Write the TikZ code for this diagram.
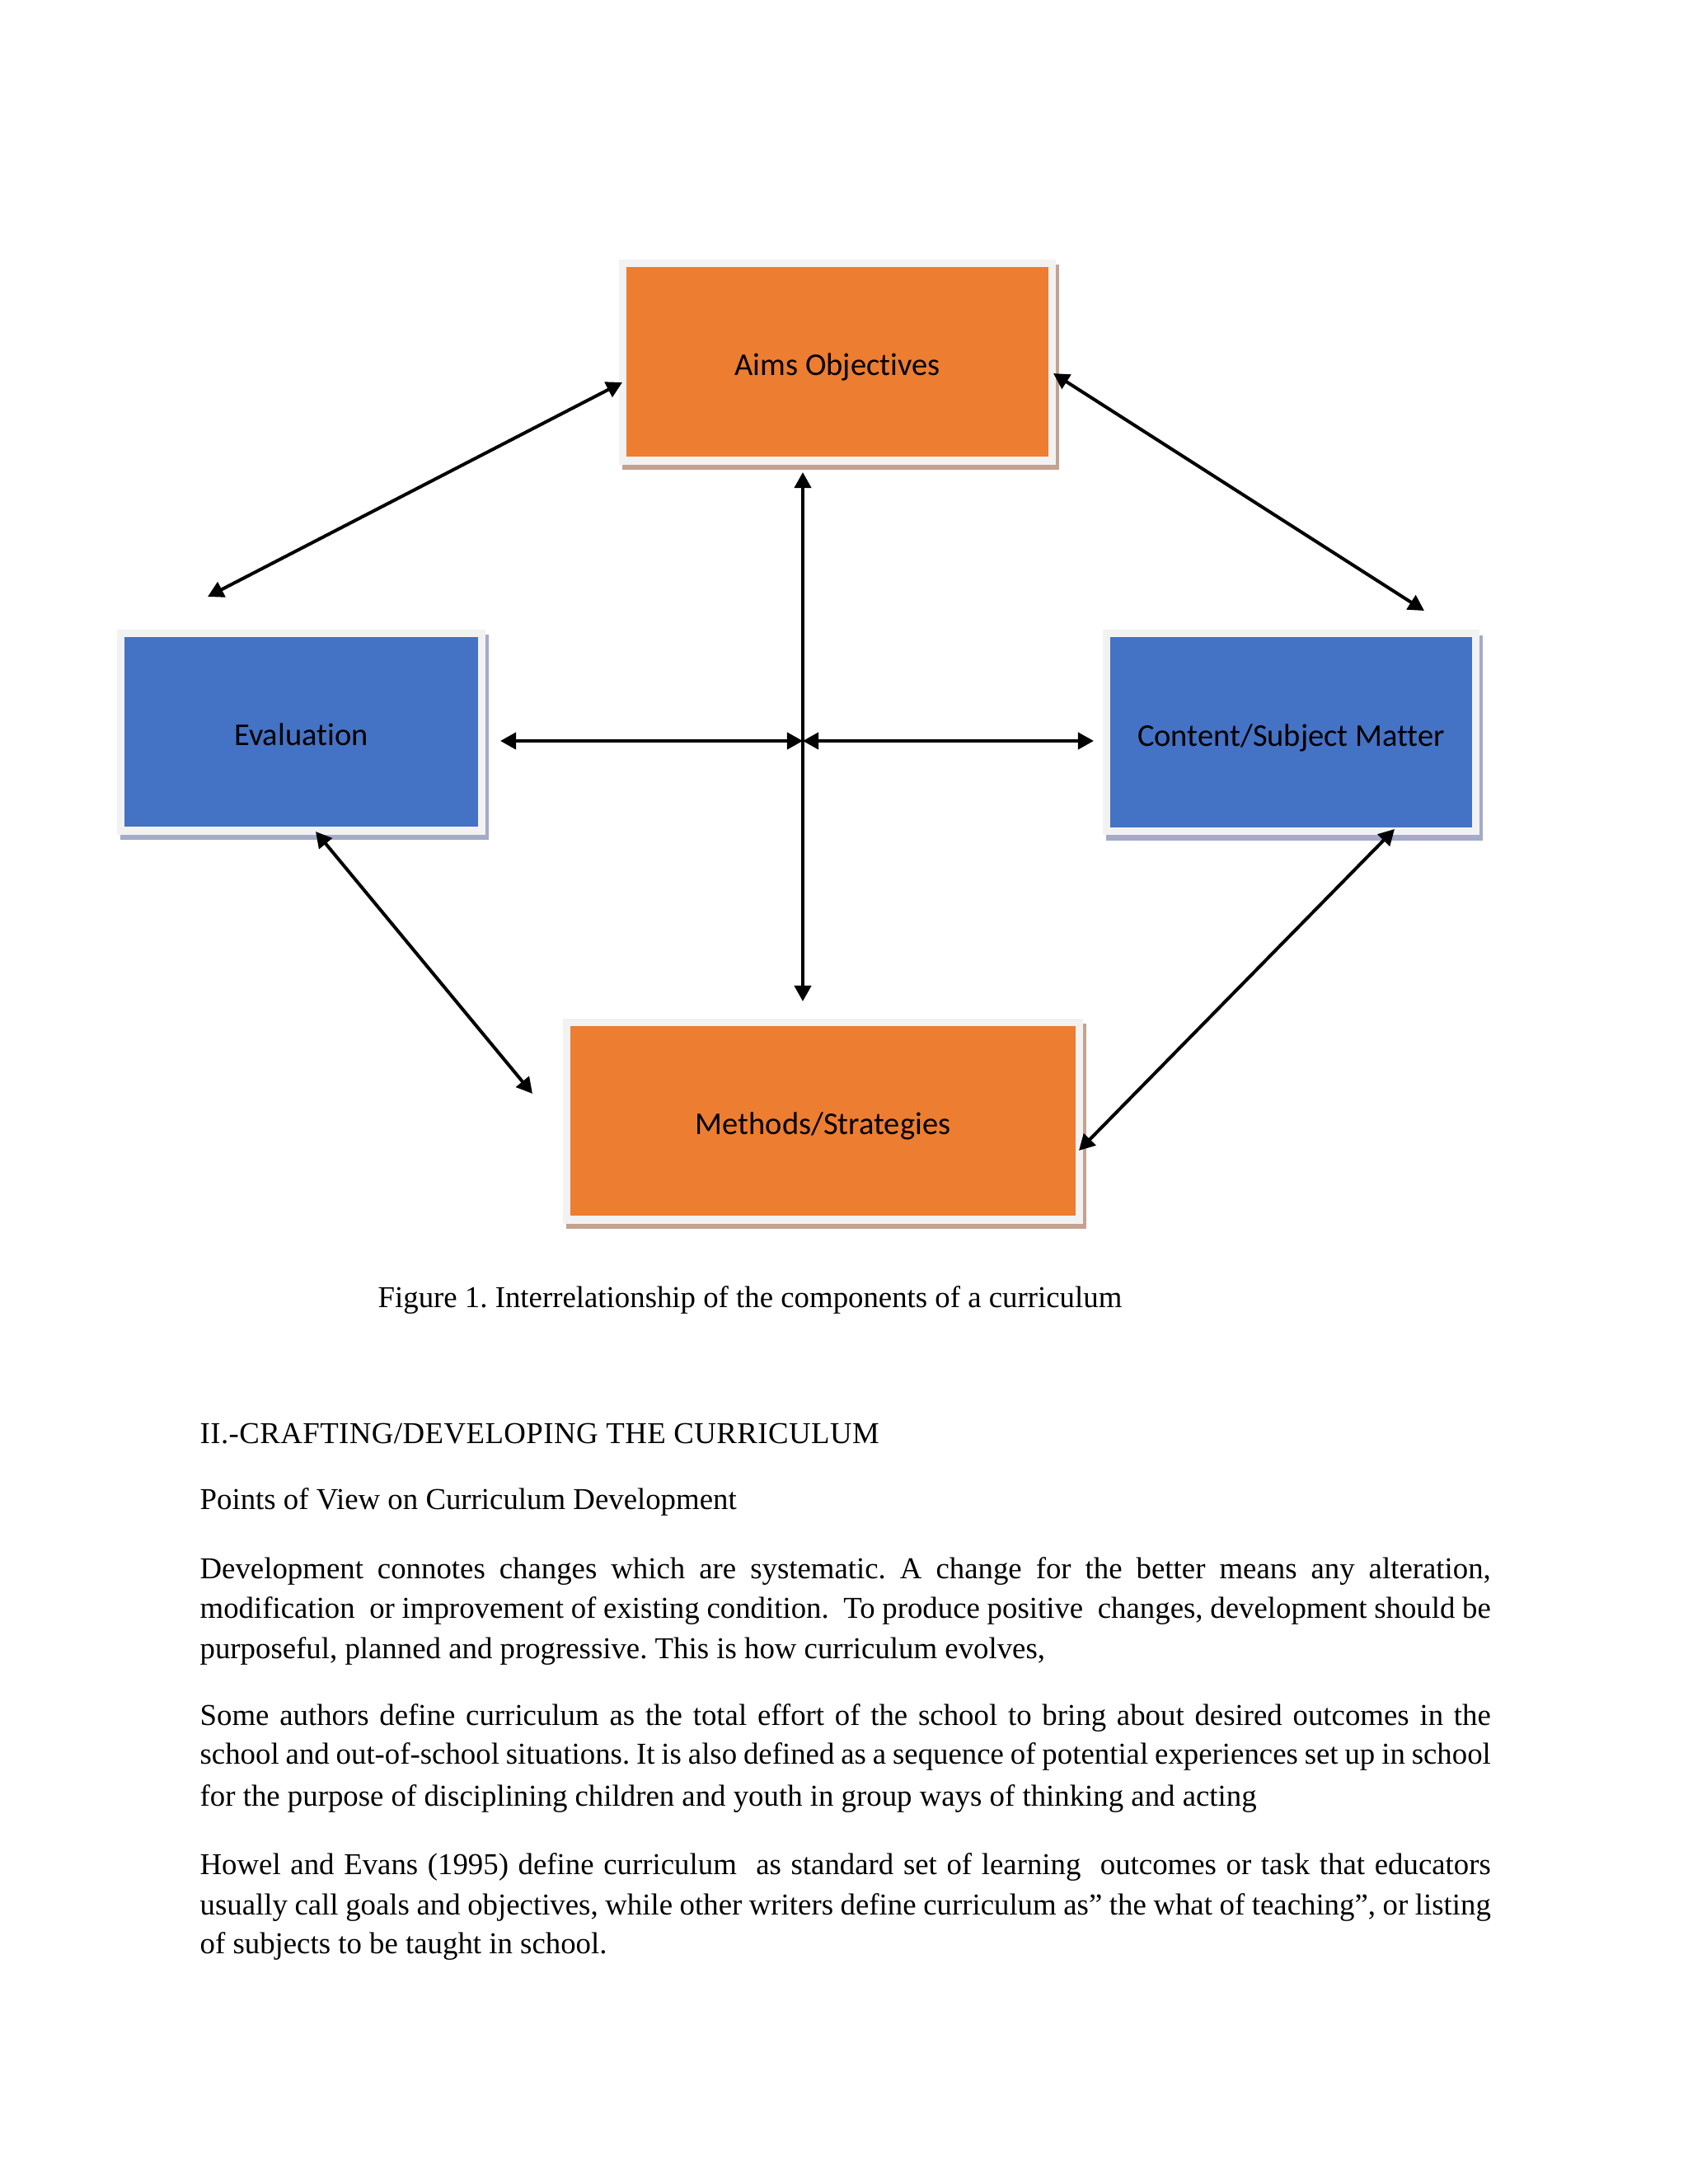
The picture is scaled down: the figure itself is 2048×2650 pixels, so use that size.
\documentclass[tikz,border=0pt]{standalone}
\usepackage{fontspec}
\setmainfont{Liberation Serif}
\newfontfamily\boxfont[Ligatures=NoCommon]{Carlito}
\usetikzlibrary{arrows.meta,shadows}
\definecolor{aorange}{HTML}{ED7D31}
\definecolor{ablue}{HTML}{4472C4}
\definecolor{framecol}{HTML}{F3F2F2}
\definecolor{oshadow}{HTML}{C4A290}
\definecolor{bshadow}{HTML}{A4AAC8}
\frenchspacing
\newcommand{\boxtext}[1]{\raisebox{-5pt}[0pt][0pt]{#1}}
\begin{document}
\begin{tikzpicture}[x=0.29883pt,y=-0.29883pt,
  comp/.style 2 args={draw=none, fill=framecol, inner sep=0pt,
    minimum width=#1, minimum height=74.4pt,
    path picture={\fill[#2] ([xshift=2.7pt,yshift=2.7pt]path picture bounding box.south west)
      rectangle ([xshift=-2.7pt,yshift=-2.7pt]path picture bounding box.north east);},
    font=\boxfont\fontsize{11.5}{13}\selectfont, text=black},
  oshad/.style={drop shadow={shadow xshift=1.2pt, shadow yshift=-2pt, fill=oshadow, opacity=1}},
  bshad/.style={drop shadow={shadow xshift=1.2pt, shadow yshift=-2pt, fill=bshadow, opacity=1}},
  link/.style={{Triangle[length=5.7pt,width=6pt]}-{Triangle[length=5.7pt,width=6pt]}, line width=1.2pt},
  body/.style={anchor=base west, inner sep=0pt, font=\fontsize{11}{13}\selectfont}]
\useasboundingbox[fill=white] (0,0) rectangle (2048,2650);

% component boxes
\node[comp={158.4pt}{aorange}, oshad] (aims) at (1016,439) {\boxtext{Aims Objectives}};
\node[comp={133.6pt}{ablue}, bshad] (eval) at (365.5,888) {\boxtext{Evaluation}};
\node[comp={136.6pt}{ablue}, bshad] (cont) at (1566.5,888.5) {\boxtext{Content/Subject Matter}};
\node[comp={188.6pt}{aorange}, oshad] (meth) at (998.5,1360) {\boxtext{Methods/Strategies}};

% connector end points
\coordinate (aimsL) at (755,464);
\coordinate (evalT) at (252,724);
\coordinate (aimsR) at (1278,453);
\coordinate (contT) at (1728,741);
\coordinate (aimsB) at (974,573);
\coordinate (methT) at (974,1215);
\coordinate (evalR) at (607,899);
\coordinate (hub) at (974,899);
\coordinate (contL) at (1327,899);
\coordinate (evalB) at (383,1009);
\coordinate (methL) at (646,1327);
\coordinate (contB) at (1692,1006);
\coordinate (methR) at (1309,1396);

\draw[link] (aimsL) -- (evalT);
\draw[link] (aimsR) -- (contT);
\draw[link] (aimsB) -- (methT);
\draw[link] (evalR) -- (hub);
\draw[link] (hub) -- (contL);
\draw[link] (evalB) -- (methL);
\draw[link] (contB) -- (methR);

% caption and text
\node[body] (cap) at (458,1586) {Figure 1. Interrelationship of the components of a curriculum};
\node[body] (head) at (242,1751) {\addfontfeatures{LetterSpace=1.2}II.-CRAFTING/DEVELOPING THE CURRICULUM};
\node[body] (pov) at (242,1831) {Points of View on Curriculum Development};

\node[body] (p1a) at (242,1915) {\makebox[468pt][s]{Development connotes changes which are systematic. A change for the better means any alteration,}};
\node[body] (p1b) at (242,1963) {\makebox[468pt][s]{modification\ \ or improvement of existing condition.\ \ To produce positive\ \ changes, development should be}};
\node[body] (p1c) at (242,2012) {purposeful, planned and progressive. This is how curriculum evolves,};

\node[body] (p2a) at (242,2093) {\makebox[468pt][s]{Some authors define curriculum as the total effort of the school to bring about desired outcomes in the}};
\node[body] (p2b) at (242,2140) {\makebox[468pt][s]{school and out-of-school situations.\ It is also defined as a sequence of potential experiences set up in school}};
\node[body] (p2c) at (242,2191) {for the purpose of disciplining children and youth in group ways of thinking and acting};

\node[body] (p3a) at (242,2274) {\makebox[468pt][s]{Howel and Evans (1995) define curriculum\ \ as standard set of learning\ \ outcomes or task that educators}};
\node[body] (p3b) at (242,2323) {\makebox[468pt][s]{usually call goals and objectives, while other writers define curriculum as” the what of teaching”, or listing}};
\node[body] (p3c) at (242,2370) {of subjects to be taught in school.};
\end{tikzpicture}
\end{document}
